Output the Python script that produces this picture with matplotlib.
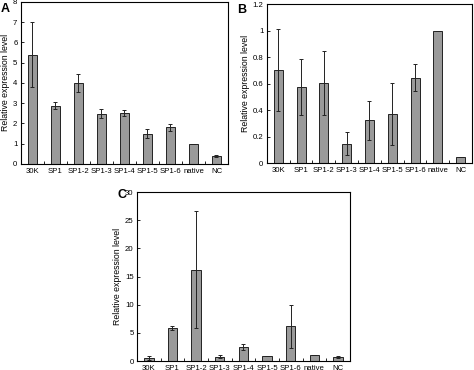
import matplotlib
matplotlib.use("Agg")
import matplotlib.pyplot as plt
import numpy as np

plt.rcParams['font.family'] = ['Liberation Sans', 'DejaVu Sans']

categories = ['30K', 'SP1', 'SP1-2', 'SP1-3', 'SP1-4', 'SP1-5', 'SP1-6', 'native', 'NC']

# panel A
a_vals = [5.4, 2.87, 4.0, 2.47, 2.5, 1.5, 1.8, 1.0, 0.4]
a_err = [1.62, 0.18, 0.45, 0.22, 0.15, 0.22, 0.18, 0.0, 0.04]

# panel B
b_vals = [0.705, 0.575, 0.607, 0.147, 0.322, 0.372, 0.645, 1.0, 0.045]
b_err = [0.31, 0.21, 0.24, 0.085, 0.15, 0.235, 0.1, 0.0, 0.0]

# panel C
c_vals = [0.6, 5.85, 16.2, 0.8, 2.5, 0.9, 6.2, 1.05, 0.7]
c_err = [0.35, 0.3, 10.4, 0.2, 0.55, 0.05, 3.8, 0.0, 0.2]


def draw_panel(ax, vals, errs, ymax, ystep, yfmt):
    x = np.arange(len(categories))
    ax.bar(x, vals, width=0.4, color='#9a9a9a', edgecolor='#222222', linewidth=0.7)
    ax.errorbar(x, vals, yerr=errs, fmt='none', ecolor='#222222',
                elinewidth=0.7, capsize=1.6, capthick=0.7)
    ax.set_xlim(-0.5, len(categories) - 0.5)
    ax.set_ylim(0, ymax)
    ticks = np.arange(0, ymax + ystep / 2, ystep)
    ax.set_yticks(ticks)
    ax.set_yticklabels([yfmt(t) for t in ticks])
    ax.set_xticks(x)
    ax.set_xticklabels(categories)
    ax.set_xticks(np.arange(0.5, len(categories) - 0.5), minor=True)
    ax.tick_params(axis='x', which='major', length=0, labelsize=5.6, pad=3)
    ax.tick_params(axis='x', which='minor', direction='in', length=2, width=0.6)
    ax.tick_params(axis='y', direction='in', length=2, width=0.6, labelsize=5.6, pad=2.5)
    for s in ax.spines.values():
        s.set_linewidth(0.8)
    ax.set_ylabel('Relative expression level', fontsize=6.3, labelpad=2)


fig = plt.figure(figsize=(4.74, 3.70), dpi=100)

axA = fig.add_axes([0.044, 0.557, 0.437, 0.438])
draw_panel(axA, a_vals, a_err, 8, 1, lambda t: '%d' % t)

axB = fig.add_axes([0.563, 0.559, 0.433, 0.430])
draw_panel(axB, b_vals, b_err, 1.2, 0.2, lambda t: '%g' % round(t, 1))

axC = fig.add_axes([0.289, 0.024, 0.449, 0.457])
draw_panel(axC, c_vals, c_err, 30, 5, lambda t: '%d' % t)

fig.text(0.001, 0.992, 'A', fontsize=9, fontweight='bold', ha='left', va='top')
fig.text(0.500, 0.990, 'B', fontsize=9, fontweight='bold', ha='left', va='top')
fig.text(0.247, 0.490, 'C', fontsize=9, fontweight='bold', ha='left', va='top')

fig.savefig('out.png', dpi=100)
